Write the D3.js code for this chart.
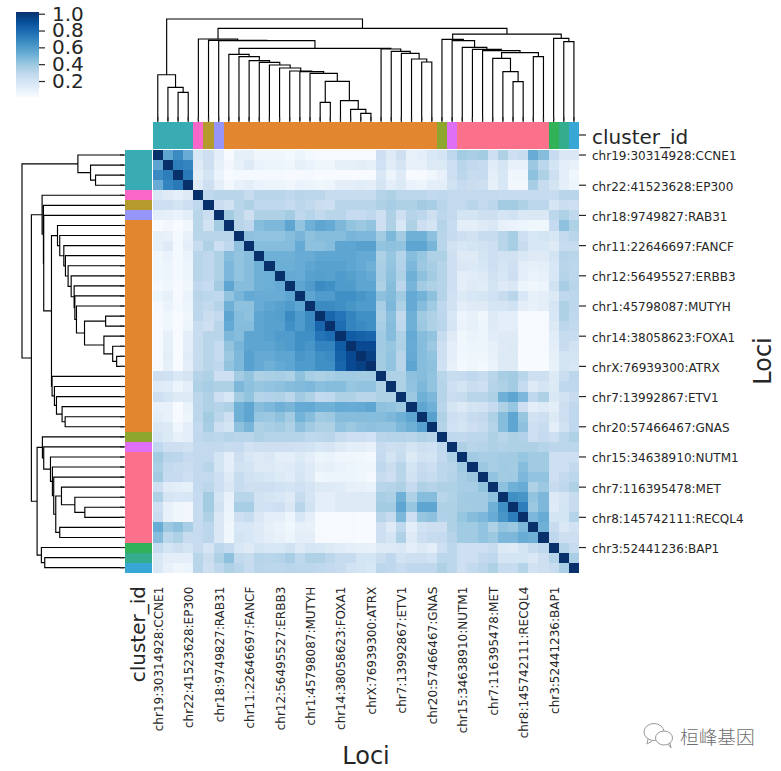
<!DOCTYPE html>
<html><head><meta charset="utf-8">
<style>html,body{margin:0;padding:0;background:#fff}svg{display:block}text{font-family:"DejaVu Sans";fill:#262626}</style>
<script src="https://cdn.jsdelivr.net/npm/d3@7"></script></head><body>
<svg id="c" width="781" height="771"></svg>
<script>
const lociLabels = ["chr19:30314928:CCNE1","chr22:41523628:EP300","chr18:9749827:RAB31","chr11:22646697:FANCF","chr12:56495527:ERBB3","chr1:45798087:MUTYH","chr14:38058623:FOXA1","chrX:76939300:ATRX","chr7:13992867:ETV1","chr20:57466467:GNAS","chr15:34638910:NUTM1","chr7:116395478:MET","chr8:145742111:RECQL4","chr3:52441236:BAP1"];
const clusterSizes = [4,1,1,1,21,1,1,9,1,1,1];
const clusterColors = ["#38abb3","#fb66c9","#b59a2e","#9596f8","#e2862f","#8ea52e","#df70f6","#fb708a","#31b258","#34ad8f","#38a7d5"];
const blues = ["#f7fbff","#deebf7","#c6dbef","#9ecae1","#6baed6","#4292c6","#2171b5","#08519c","#08306b"];
const blueStops = [.015,.12,.23,.345,.46,.59,.735,.87,1];
const cbarTicks = [0.2,0.4,0.6,0.8,1.0];
// upper triangle of the similarity matrix: row r lists columns r+1 .. 41
const corr = [
[.5,.62,.47,.15,.2,.1,.01,.09,.09,.05,.05,.05,.03,.06,.03,.02,.02,.02,.02,.02,.02,.2,.12,.2,.08,.1,.14,.16,.25,.33,.31,.33,.2,.3,.2,.22,.47,.4,.23,.14,.14],
[.68,.65,.12,.2,.09,.04,.08,.12,.07,.06,.06,.05,.09,.07,.05,.05,.09,.09,.1,.09,.19,.11,.16,.08,.08,.13,.13,.2,.27,.24,.23,.11,.16,.08,.08,.35,.26,.17,.1,.08],
[.7,.1,.17,.07,.01,.03,.03,.03,.03,.03,.02,.02,.03,.01,.01,.01,.01,.01,.01,.14,.06,.12,.01,.02,.05,.08,.2,.26,.22,.23,.1,.15,.05,.05,.38,.3,.2,.1,.05],
[.12,.2,.1,.04,.08,.1,.07,.06,.06,.05,.07,.06,.05,.06,.1,.1,.11,.1,.16,.1,.13,.07,.06,.1,.1,.18,.23,.21,.2,.09,.15,.04,.04,.32,.22,.17,.1,.06],
[.25,.27,.27,.27,.22,.27,.27,.27,.25,.27,.26,.26,.22,.22,.22,.22,.22,.28,.3,.26,.26,.26,.24,.25,.24,.24,.24,.24,.24,.23,.23,.23,.23,.23,.22,.27,.27],
[.21,.18,.27,.3,.25,.25,.25,.23,.26,.24,.21,.2,.27,.27,.27,.27,.3,.32,.3,.3,.33,.32,.27,.24,.24,.27,.24,.26,.33,.33,.3,.26,.26,.16,.21,.2],
[.33,.27,.2,.3,.3,.3,.33,.25,.28,.24,.27,.27,.23,.23,.25,.2,.3,.2,.28,.26,.2,.26,.24,.17,.17,.2,.2,.16,.18,.14,.14,.14,.26,.3,.25],
[.27,.25,.4,.42,.42,.5,.37,.45,.5,.48,.42,.37,.35,.37,.2,.3,.15,.3,.2,.17,.28,.22,.1,.1,.12,.14,.08,.07,.06,.05,.05,.23,.38,.3],
[.38,.37,.37,.37,.4,.43,.38,.4,.4,.4,.43,.42,.42,.33,.42,.33,.45,.45,.38,.27,.23,.2,.18,.22,.22,.27,.32,.2,.15,.17,.15,.24,.27],
[.4,.4,.4,.4,.48,.38,.38,.4,.5,.5,.52,.52,.37,.38,.37,.5,.5,.43,.27,.18,.15,.17,.18,.2,.27,.32,.22,.15,.15,.12,.22,.22],
[.45,.45,.45,.47,.47,.5,.5,.5,.5,.48,.48,.3,.36,.28,.4,.36,.3,.3,.2,.12,.12,.17,.2,.18,.18,.14,.12,.12,.17,.28,.27],
[.46,.46,.47,.5,.52,.52,.52,.5,.48,.45,.31,.37,.29,.42,.35,.32,.28,.2,.14,.13,.15,.2,.16,.19,.1,.09,.1,.15,.27,.26],
[.48,.47,.52,.53,.52,.55,.53,.5,.48,.32,.38,.3,.45,.38,.33,.28,.2,.1,.11,.13,.18,.15,.2,.1,.07,.08,.15,.28,.26],
[.5,.55,.62,.6,.55,.55,.5,.5,.3,.4,.26,.43,.33,.3,.28,.2,.1,.12,.11,.17,.12,.14,.06,.05,.06,.18,.32,.27],
[.5,.55,.55,.6,.6,.57,.55,.38,.41,.34,.48,.44,.38,.28,.19,.13,.15,.16,.19,.22,.27,.15,.09,.1,.13,.25,.26],
[.62,.62,.6,.57,.55,.55,.32,.42,.3,.48,.4,.34,.25,.18,.1,.12,.12,.16,.16,.18,.1,.08,.1,.16,.3,.26],
[.78,.72,.65,.6,.6,.3,.39,.24,.45,.34,.3,.26,.15,.06,.08,.05,.13,.1,.1,.02,.02,.02,.15,.3,.25],
[.75,.65,.62,.6,.32,.4,.25,.45,.35,.3,.27,.16,.07,.09,.06,.12,.1,.1,.02,.02,.02,.13,.26,.24],
[.82,.8,.78,.34,.4,.3,.48,.4,.37,.22,.12,.05,.07,.06,.11,.12,.12,.02,.02,.02,.11,.22,.22],
[.9,.9,.34,.36,.3,.47,.4,.35,.2,.1,.05,.06,.06,.09,.12,.13,.02,.02,.02,.1,.22,.18],
[.93,.33,.37,.27,.48,.4,.37,.2,.1,.04,.05,.05,.08,.13,.13,.01,.01,.01,.09,.17,.17],
[.33,.37,.27,.5,.4,.38,.19,.08,.03,.05,.03,.07,.12,.12,.01,.01,.01,.08,.17,.15],
[.3,.3,.38,.4,.37,.27,.22,.23,.25,.22,.27,.32,.33,.27,.2,.2,.13,.21,.26],
[.3,.37,.42,.37,.28,.2,.17,.21,.2,.28,.3,.33,.23,.12,.16,.13,.25,.25],
[.35,.45,.42,.28,.21,.22,.27,.27,.3,.45,.5,.42,.25,.3,.14,.18,.22],
[.5,.45,.27,.17,.13,.17,.18,.23,.3,.36,.2,.1,.12,.1,.2,.25],
[.52,.3,.2,.18,.22,.24,.3,.4,.5,.36,.18,.2,.13,.2,.25],
[.28,.19,.17,.2,.22,.28,.4,.5,.38,.2,.22,.1,.18,.25],
[.25,.24,.26,.26,.3,.27,.3,.29,.2,.23,.2,.26,.3],
[.3,.27,.28,.3,.29,.3,.3,.3,.28,.26,.26,.26],
[.34,.32,.32,.33,.33,.36,.34,.34,.2,.2,.2],
[.35,.32,.34,.33,.4,.34,.34,.2,.2,.24],
[.37,.33,.34,.42,.37,.37,.2,.24,.26],
[.38,.45,.47,.3,.35,.22,.25,.3],
[.6,.57,.37,.42,.13,.16,.22],
[.68,.35,.42,.12,.17,.22],
[.42,.47,.17,.17,.28],
[.45,.22,.14,.18],
[.25,.2,.2],
[.28,.22],
[.31]
];
// linkage: [child, child, height]; leaves are 0..41, merges number from 42
const linkage = [
[2,3,.279],[1,42,.328],[0,43,.452],[20,21,.072],[19,45,.111],[18,46,.197],[16,17,.18],[48,47,.387],
[15,49,.466],[14,50,.482],[13,51,.489],[12,52,.518],[11,53,.548],[10,54,.574],[9,55,.59],[8,56,.63],[7,57,.652],
[26,27,.577],[25,59,.607],[24,60,.662],[23,61,.682],[22,62,.705],[58,63,.711],[6,64,.787],[5,65,.79],[4,66,.803],
[35,36,.384],[34,68,.482],[33,69,.613],[37,38,.63],[70,71,.669],[32,72,.689],[31,73,.702],[30,74,.721],[29,75,.787],[28,76,.8],
[40,41,.777],[39,78,.81],[77,79,.852],[67,80,.908],[44,81,1]
];

const n = corr.length + 1;
const idx = d3.range(n);
const x = d3.scaleBand().domain(idx).range([152.7,579]);
const y = d3.scaleBand().domain(idx).range([150,572.7]);
const color = d3.scaleLinear().domain(blueStops).range(blues).interpolate(d3.interpolateRgb).clamp(true);
const svg = d3.select("#c");

// heat cells
const cells = [];
idx.forEach(r=>{cells.push({r,c:r,v:1});(corr[r]||[]).forEach((v,k)=>{cells.push({r,c:r+1+k,v});cells.push({r:r+1+k,c:r,v});});});
svg.append("g").selectAll("rect").data(cells).join("rect")
 .attr("x",d=>x(d.c)).attr("y",d=>y(d.r)).attr("width",x.bandwidth()).attr("height",y.bandwidth())
 .attr("fill",d=>color(d.v)).attr("shape-rendering","crispEdges");

// cluster strips
const clusterOf = clusterSizes.flatMap((s,i)=>d3.range(s).map(()=>i));
svg.append("g").selectAll("rect").data(idx).join("rect").attr("x",d=>x(d)).attr("y",122).attr("width",x.bandwidth()).attr("height",27)
 .attr("fill",d=>clusterColors[clusterOf[d]]).attr("shape-rendering","crispEdges");
svg.append("g").selectAll("rect").data(idx).join("rect").attr("x",125).attr("y",d=>y(d)).attr("width",27).attr("height",y.bandwidth())
 .attr("fill",d=>clusterColors[clusterOf[d]]).attr("shape-rendering","crispEdges");

// dendrograms
function dendroPath(pos, hs, horizontal){
  const nodes = idx.map(i=>({p:pos(i)+pos.bandwidth()/2,h:0}));
  const p = d3.path();
  const pt=(a,b)=>horizontal?[b,a]:[a,b];
  linkage.forEach(([a,b,h])=>{
    const A=nodes[a],B=nodes[b];
    p.moveTo(...pt(A.p,hs(A.h)));p.lineTo(...pt(A.p,hs(h)));p.lineTo(...pt(B.p,hs(h)));p.lineTo(...pt(B.p,hs(B.h)));
    nodes.push({p:(A.p+B.p)/2,h});
  });
  return p.toString();
}
svg.append("path").attr("d",dendroPath(x,d3.scaleLinear([0,1],[120.7,19]),false)).attr("fill","none").attr("stroke","#000").attr("stroke-width",1.15);
svg.append("path").attr("d",dendroPath(y,d3.scaleLinear([0,1],[124,22]),true)).attr("fill","none").attr("stroke","#000").attr("stroke-width",1.15);

// axes
function style(g,size){g.select(".domain").remove();g.selectAll(".tick line").attr("stroke","#262626").attr("stroke-width",1.2);
 g.selectAll("text").attr("fill","#262626").attr("font-family","DejaVu Sans").attr("font-size",size);}
const every3 = idx.filter(i=>i%3===0);
const gy = svg.append("g").attr("transform","translate(579,0)").call(d3.axisRight(y).tickValues(every3).tickFormat(i=>lociLabels[i/3]).tickSize(7).tickPadding(6));
style(gy,"12px");
gy.selectAll("text").attr("dy","0.62em").attr("y",-2);
const gx = svg.append("g").attr("transform","translate(0,572.7)").call(d3.axisBottom(x).tickValues(every3).tickFormat(i=>lociLabels[i/3]).tickSize(0));
style(gx,"12px");
gx.selectAll("text").attr("text-anchor","end").attr("dy",null).attr("y",null).attr("transform",function(){
  return "translate(1,14) rotate(-90) translate(0,4)";});
// small ticks on the strips
svg.append("g").attr("transform","translate(125,0)").call(d3.axisLeft(y).tickFormat("").tickSize(5)).call(g=>style(g,"1px"));
svg.append("g").attr("transform","translate(0,122)").call(d3.axisTop(x).tickFormat("").tickSize(5)).call(g=>style(g,"1px"));
svg.append("line").attr("x1",579).attr("x2",586).attr("y1",135).attr("y2",135).attr("stroke","#262626").attr("stroke-width",1.2);

// titles
svg.append("text").attr("x",592).attr("y",144).attr("font-size",20).text("cluster_id");
svg.append("text").attr("transform","translate(145,586) rotate(-90)").attr("text-anchor","end").attr("font-size",20).text("cluster_id");
svg.append("text").attr("x",366).attr("y",764).attr("text-anchor","middle").attr("font-size",24).text("Loci");
svg.append("text").attr("transform","translate(771,361) rotate(-90)").attr("text-anchor","middle").attr("font-size",24).text("Loci");

// colour bar
const cb = d3.scaleLinear().domain([0.2,1]).range([81,13.7]);
const grad = svg.append("defs").append("linearGradient").attr("id","cbg").attr("x1",0).attr("x2",0).attr("y1",1).attr("y2",0);
blues.forEach((b,i)=>grad.append("stop").attr("offset",i/8).attr("stop-color",b));
svg.append("rect").attr("x",16).attr("y",12).attr("width",23).attr("height",84.7).attr("fill","url(#cbg)");
const gc = svg.append("g").attr("transform","translate(39,0)").call(d3.axisRight(cb).tickValues(cbarTicks).tickFormat(d3.format(".1f")).tickSize(6).tickPadding(7));
style(gc,"20px");

// watermark
const wm = svg.append("g").attr("fill","none").attr("stroke","#9a9a9a").attr("stroke-width",1);
wm.append("ellipse").attr("cx",654).attr("cy",732).attr("rx",10).attr("ry",8.5).attr("fill","#fff");
wm.append("path").attr("d","M648 739 L647 744 L652 741");
wm.append("ellipse").attr("cx",664).attr("cy",738).attr("rx",8.5).attr("ry",7).attr("fill","#fff");
wm.append("path").attr("d","M668 744 L671 748 L670 743");
svg.append("text").attr("x",680).attr("y",744).attr("font-size",18.7).style("font-family","'Noto Sans CJK SC'").style("fill","#6e6e6e").attr("font-weight",300).text("桓峰基因");
</script></body></html>
